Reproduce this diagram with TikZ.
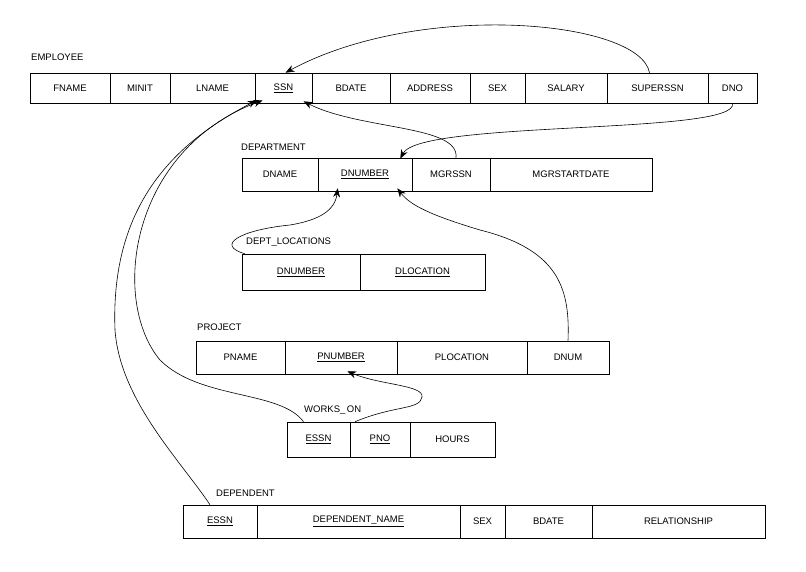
\documentclass[tikz,border=0pt]{standalone}
\usepackage{fontspec}
\setmainfont{Liberation Sans}
\usetikzlibrary{arrows.meta}
\begin{document}
\begin{tikzpicture}[x=1pt,y=-1pt,
  every node/.style={font=\fontsize{9.5}{11}\selectfont,inner sep=0pt},
  cell/.style={draw,line width=0.6pt},
  lbl/.style={anchor=west},
  ar/.style={line width=0.6pt,-{Stealth[length=9pt,width=7pt]}}]
\useasboundingbox (0,0) rectangle (806,571);
\newcommand{\cel}[6]{% name, x1, x2, y1, y2, text
  \node[cell,minimum width={#3-#2},minimum height={#5-#4}] (#1) at ({(#2+#3)/2},{(#4+#5)/2}) {#6};}
% EMPLOYEE
\node[lbl] (lE) at (31,57) {EMPLOYEE};
\cel{eF}{30}{110}{73}{103}{FNAME}
\cel{eM}{110}{170}{73}{103}{MINIT}
\cel{eL}{170}{255}{73}{103}{LNAME}
\cel{eS}{255}{312}{73}{103}{\underline{SSN}}
\cel{eB}{312}{390}{73}{103}{BDATE}
\cel{eA}{390}{470}{73}{103}{ADDRESS}
\cel{eX}{470}{525}{73}{103}{SEX}
\cel{eY}{525}{607}{73}{103}{SALARY}
\cel{eU}{607}{708}{73}{103}{SUPERSSN}
\cel{eD}{708}{757}{73}{103}{DNO}
% DEPARTMENT
\node[lbl] (lD) at (241,147) {DEPARTMENT};
\cel{dN}{242}{318}{158}{191}{DNAME}
\cel{dU}{318}{412}{158}{191}{\underline{DNUMBER}}
\cel{dM}{412}{490}{158}{191}{MGRSSN}
\cel{dS}{490}{652}{158}{191}{MGRSTARTDATE}
% DEPT_LOCATIONS
\node[lbl] (lL) at (246,242) {DEPT\_LOCATIONS};
\cel{lN}{242}{360}{254}{290}{\underline{DNUMBER}}
\cel{lO}{360}{485}{254}{290}{\underline{DLOCATION}}
% PROJECT
\node[lbl] (lP) at (197,327) {PROJECT};
\cel{pN}{196}{285}{341}{374}{PNAME}
\cel{pU}{285}{397}{341}{374}{\underline{PNUMBER}}
\cel{pL}{397}{527}{341}{374}{PLOCATION}
\cel{pD}{527}{609}{341}{374}{DNUM}
% WORKS_ON
\node[lbl] (lW) at (304,410) {WORKS\_\,ON};
\cel{wE}{287}{350}{422}{457}{\underline{ESSN}}
\cel{wP}{350}{410}{422}{457}{\underline{PNO}}
\cel{wH}{410}{495}{422}{457}{HOURS}
% DEPENDENT
\node[lbl] (lT) at (216,493) {DEPENDENT};
\cel{tE}{183}{257}{505}{538}{\underline{ESSN}}
\cel{tN}{257}{460}{505}{538}{\underline{DEPENDENT\_NAME}}
\cel{tS}{460}{505}{505}{538}{SEX}
\cel{tB}{505}{592}{505}{538}{BDATE}
\cel{tR}{592}{765}{505}{538}{RELATIONSHIP}
% arrows
\draw[ar] ([xshift=-8]eU.north) .. controls (640,20) and (420,0) .. ([xshift=2]eS.north);
\draw[ar] (eD.south) .. controls (740,135) and (420,120) .. ([xshift=-12,yshift=-1]dU.north east);
\draw[ar] ([xshift=5]dM.north) .. controls (460,125) and (360,130) .. ([xshift=20,yshift=2]eS.south);
\draw[ar] ([xshift=3]lN.north west) .. controls (215,245) and (240,230) .. (290,225) .. controls (320,220) and (335,210) .. ([xshift=20,yshift=3]dU.south west);
\draw[ar] (pD.north) .. controls (570,290) and (560,250) .. (480,230) .. controls (430,215) and (410,205) .. ([xshift=-15,yshift=3]dU.south east);
\draw[ar] ([xshift=-25]wP.north) .. controls (395,405) and (420,410) .. (422,397) .. controls (424,385) and (380,385) .. ([xshift=-50,yshift=3]pU.south east);
\draw[ar] ([xshift=-15]wE.north) .. controls (280,390) and (200,400) .. (160,360) .. controls (110,300) and (130,150) .. ([xshift=8,yshift=3]eS.south west);
\draw[ar] ([xshift=-10]tE.north) .. controls (180,460) and (120,400) .. (115,330) .. controls (110,200) and (180,140) .. ([xshift=2,yshift=3]eS.south west);
\end{tikzpicture}
\end{document}
